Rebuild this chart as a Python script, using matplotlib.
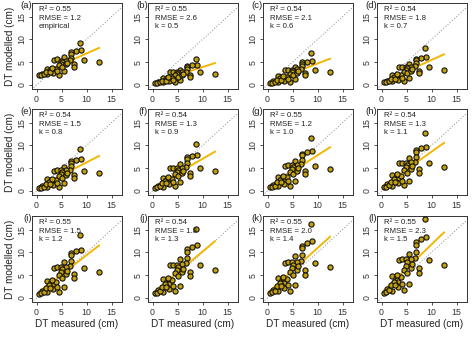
import numpy as np
import matplotlib
matplotlib.use("Agg")
import matplotlib.pyplot as plt

plt.rcParams['font.family'] = ['Liberation Sans', 'DejaVu Sans']

# measured DT (cm), same for every panel
dt_measured = [8.6, 8.9, 7.9, 6.9, 6.9, 6.8, 5.5, 6.6, 5.8, 3.5, 4.1, 4.8, 5.1, 9.5,
               12.5, 7.5, 7.5, 4.8, 4.5, 5.5, 4.5, 2.1, 2.8, 3.0, 3.3, 2.7, 3.2, 2.0,
               1.1, 0.5, 0.8, 1.5, 3.8, 2.5, 4.1, 5.1, 5.8, 1.8, 2.7, 6.1, 3.1]

# modelled DT, empirical model (panel a)
dt_empirical = [9.3, 7.7, 7.5, 7.2, 6.7, 6.0, 6.2, 5.4, 5.3, 5.5, 5.6, 5.3, 5.0, 5.4,
                5.0, 4.7, 4.0, 4.7, 4.3, 3.1, 2.2, 3.6, 3.5, 3.3, 3.1, 3.0, 2.6, 2.3,
                2.4, 2.1, 2.2, 2.3, 3.6, 3.1, 3.0, 4.0, 4.5, 2.8, 2.8, 4.8, 3.8]

# modelled DT for k = 1.0 (other panels scale with k)
dt_k1 = [11.57, 8.86, 8.57, 8.21, 7.79, 6.79, 6.5, 5.86, 5.71, 5.5, 5.64, 5.64, 5.21, 5.5,
         4.79, 4.43, 3.64, 4.71, 4.14, 2.07, 1.14, 3.14, 2.86, 2.57, 2.36, 2.07, 1.57, 1.07,
         1.29, 0.79, 0.86, 1.14, 3.0, 2.36, 2.07, 3.64, 4.43, 1.86, 1.86, 4.93, 3.36]

panel_ids = ['(a)', '(b)', '(c)', '(d)', '(e)', '(f)', '(g)', '(h)', '(i)', '(j)', '(k)', '(l)']
k_values = [None, 0.5, 0.6, 0.7, 0.8, 0.9, 1.0, 1.1, 1.2, 1.3, 1.4, 1.5]
r2_labels = ['0.55', '0.55', '0.54', '0.54', '0.54', '0.54', '0.55', '0.54', '0.55', '0.54', '0.55', '0.55']
rmse_labels = ['1.2', '2.6', '2.1', '1.8', '1.5', '1.3', '1.2', '1.3', '1.5', '1.8', '2.0', '2.3']

W, H = 474, 338
fig = plt.figure(figsize=(W / 100, H / 100), dpi=100)

lefts = [32, 148, 263, 377]
tops = [3, 109, 216]
aw, ah = 90, 86

x = np.array(dt_measured)
box_col = '#333333'

for i in range(12):
    r, c = divmod(i, 4)
    ax = fig.add_axes([lefts[c] / W, 1 - (tops[r] + ah) / H, aw / W, ah / H])
    if k_values[i] is None:
        y = np.array(dt_empirical)
        third = 'empirical'
    else:
        y = k_values[i] * np.array(dt_k1)
        third = 'k = %.1f' % k_values[i]

    ax.plot([-1, 20], [-1, 20], color='#888888', ls=(0, (1, 2)), lw=0.7, zorder=1)
    ax.scatter(x, y, s=14, facecolor='#c4a10a', edgecolor='#111111', linewidths=0.8, zorder=3)
    p = np.polyfit(x, y, 1)
    xl = np.array([x.min(), x.max()])
    ax.plot(xl, np.polyval(p, xl), color='#f2b705', lw=1.4, zorder=2)

    ax.set_xlim(-0.9, 17.1)
    ax.set_ylim(-0.9, 18.0)
    ax.set_xticks([0, 5, 10, 15])
    ax.set_yticks([0, 5, 10, 15])
    ax.tick_params(labelsize=6.3, length=2.5, width=0.6, pad=1.5, colors=box_col)
    for lab in ax.get_yticklabels():
        lab.set_rotation(90)
        lab.set_va('center')
    for sp in ax.spines.values():
        sp.set_color(box_col)
        sp.set_linewidth(0.7)

    ax.annotate('R² = %s\nRMSE = %s\n%s' % (r2_labels[i], rmse_labels[i], third),
                xy=(0, 1), xycoords='axes fraction', xytext=(5, -2.5),
                textcoords='offset points', ha='left', va='top',
                fontsize=5.6, linespacing=1.25, color='#222222')
    ax.annotate(panel_ids[i], xy=(0, 1), xycoords='axes fraction', xytext=(0, -2),
                textcoords='offset points', ha='right', va='center',
                fontsize=6.8, color='#222222')

    if c == 0:
        ax.set_ylabel('DT modelled (cm)', fontsize=7.2, labelpad=2, color='#222222')
    if r == 2:
        ax.set_xlabel('DT measured (cm)', fontsize=7.2, labelpad=2, color='#222222')

fig.savefig('out.png', dpi=100)
